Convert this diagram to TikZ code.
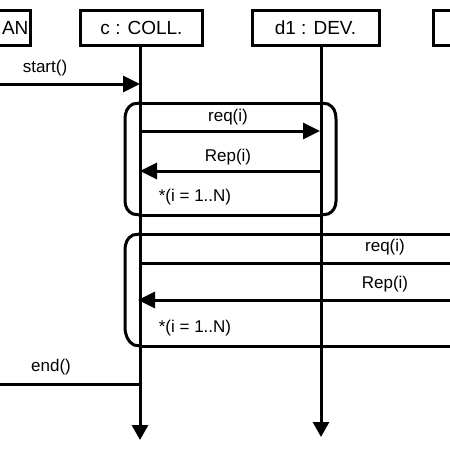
\documentclass[tikz,border=0pt]{standalone}
\usepackage{fontspec}
\setmainfont{Liberation Sans}
\usetikzlibrary{arrows.meta}
\begin{document}
\begin{tikzpicture}[x=1pt,y=-1pt,line width=3pt,
  objbox/.style={draw,line width=3pt,minimum height=35pt,inner sep=0pt,font=\fontsize{19}{19}\selectfont},
  lbl/.style={inner sep=0pt,font=\fontsize{17}{17}\selectfont},
  msg/.style={line width=3pt},
  tipr/.style={-{Triangle[length=17pt,width=16pt]}},
  life/.style={line width=3pt,-{Triangle[length=15pt,width=16pt]}},
  brace/.style={line width=3pt,line join=round}]
\useasboundingbox (0,0) rectangle (450,450);
% object boxes
\node[objbox,minimum width=60pt] (m) at (0,27.5) {};
\node[lbl,anchor=west,font=\fontsize{19}{19}\selectfont] (mt) at (0.5,27.5) {AN};
\node[objbox,minimum width=122pt] (c) at (141.5,27.5) {c : COLL.};
\node[objbox,minimum width=127pt] (d) at (315.5,27.5) {d1 : DEV.};
\node[objbox,minimum width=60pt] (e) at (463.5,27.5) {};
% lifelines
\coordinate (cT) at (140,45);
\coordinate (cB) at (140,440);
\coordinate (dT) at (321,45);
\coordinate (dB) at (321,437);
\draw[life] (cT) -- (cB);
\draw[life] (dT) -- (dB);
% start
\coordinate (s0) at (-5,84);
\coordinate (s1) at (140,84);
\draw[msg,tipr] (s0) -- (s1);
\node[lbl] (ls) at (45,68) {start()};
% loop 1
\coordinate (a1) at (140,103);
\coordinate (a2) at (321,103);
\coordinate (a3) at (140,215);
\coordinate (a4) at (321,215);
\draw[msg] (a1) -- (a2);
\draw[msg] (a3) -- (a4);
\coordinate (r1) at (140,131);
\coordinate (r2) at (320,131);
\draw[msg,tipr] (r1) -- (r2);
\node[lbl] (lr1) at (228,117) {req(i)};
\coordinate (p1) at (321,171);
\coordinate (p2) at (140,171);
\draw[msg,tipr] (p1) -- (p2);
\node[lbl] (lp1) at (228,157) {Rep(i)};
\node[lbl] (ln1) at (195,197) {*(i = 1..N)};
\draw[brace] (a1) -- (133,104) .. controls (127,107) and (125,112) .. (125,120) -- (125,201) .. controls (125,207) and (128,212) .. (133,214) -- (a3);
\draw[brace] (a2) -- (328,104) .. controls (334,107) and (336,112) .. (336,119) -- (336,201) .. controls (336,207) and (333,212) .. (328,214) -- (a4);
% loop 2
\coordinate (b1) at (140,234);
\coordinate (b2) at (460,234);
\coordinate (b3) at (140,346);
\coordinate (b4) at (460,346);
\draw[msg] (b1) -- (b2);
\draw[msg] (b3) -- (b4);
\coordinate (q1) at (140,263);
\coordinate (q2) at (460,263);
\draw[msg] (q1) -- (q2);
\node[lbl] (lr2) at (385,247) {req(i)};
\coordinate (t1) at (460,300);
\coordinate (t2) at (138,300);
\draw[msg,tipr] (t1) -- (t2);
\node[lbl] (lp2) at (385,284) {Rep(i)};
\node[lbl] (ln2) at (195,328) {*(i = 1..N)};
\draw[brace] (b1) -- (133,235) .. controls (127,238) and (125,243) .. (125,251) -- (125,327) .. controls (125,335) and (128,342) .. (134,345) -- (b3);
% end
\coordinate (e0) at (-5,384);
\coordinate (e1) at (140,384);
\draw[msg] (e0) -- (e1);
\node[lbl] (le) at (51,367) {end()};
\end{tikzpicture}
\end{document}
